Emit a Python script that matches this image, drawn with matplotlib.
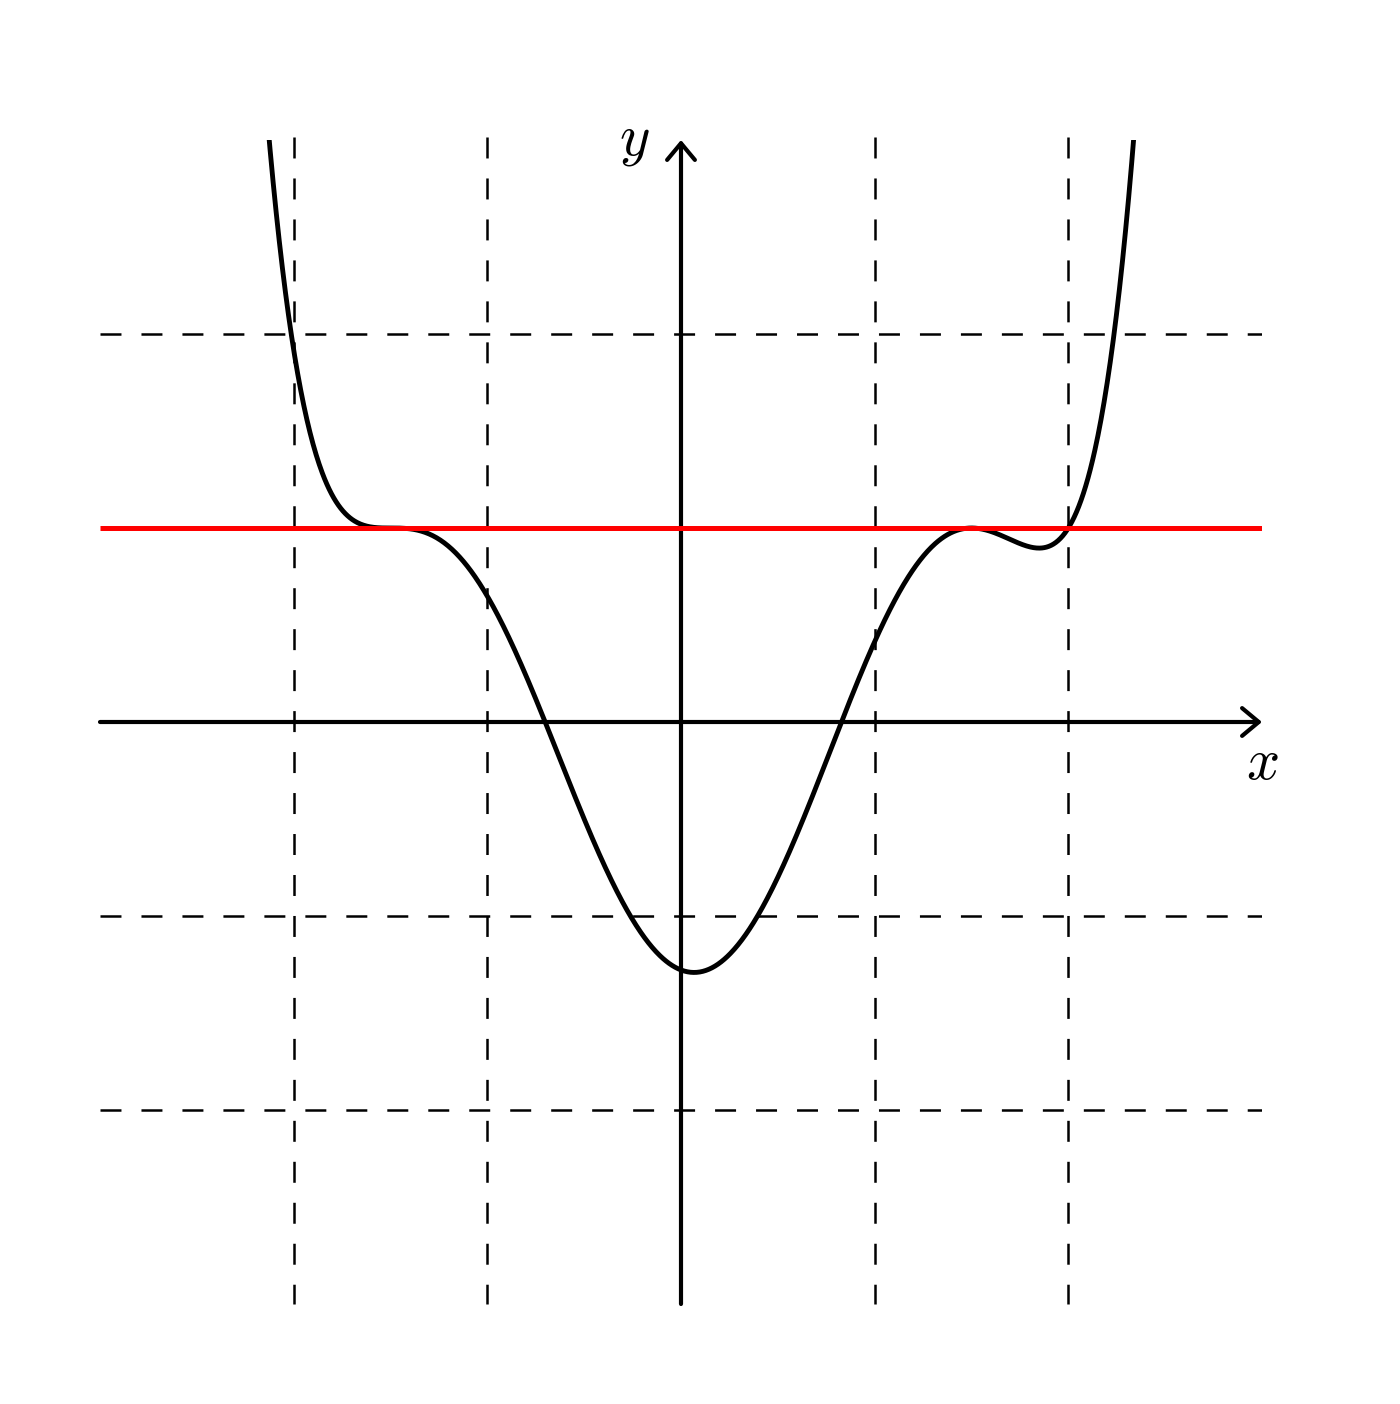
import numpy as np
import matplotlib
matplotlib.use("Agg")
import matplotlib.pyplot as plt

# ---- data ----
touch_x = [-1.5, 1.5, 2.0]      # where the curve meets the red level line
touch_mult = [3, 2, 1]          # multiplicity of each contact
curve_scale = 0.15              # leading coefficient
level_y = 1.0                   # red horizontal line
grid_x = [-2, -1, 1, 2]
grid_y = [-2, -1, 2]
x_range = [-3, 3]
y_range = [-3, 3]

plt.rcParams['lines.scale_dashes'] = False
plt.rcParams['mathtext.fontset'] = 'cm'

W, H = 1400, 1404
fig = plt.figure(figsize=(W / 100, H / 100), dpi=100)
ax = fig.add_axes([100 / W, 100 / H, 1162 / W, 1164 / H])
ax.set_xlim(*x_range)
ax.set_ylim(*y_range)
ax.axis('off')

dash = (0, (15.1, 14.4))
for gx in grid_x:
    ax.plot([gx, gx], [y_range[1] + 0.015, y_range[0]], color='black', lw=1.8,
            linestyle=dash, clip_on=False, zorder=1)
for gy in grid_y:
    ax.plot([x_range[0], x_range[1]], [gy, gy], color='black', lw=1.8,
            linestyle=dash, zorder=1)

# axes with arrows
arrow = dict(arrowstyle='->,head_length=0.6,head_width=0.5', lw=3.0,
             color='black', shrinkA=0, shrinkB=0, mutation_scale=20)
ax.annotate('', xy=(x_range[1], 0), xytext=(x_range[0], 0),
            arrowprops=arrow, annotation_clip=False, zorder=2)
ax.annotate('', xy=(0, y_range[1]), xytext=(0, y_range[0]),
            arrowprops=arrow, annotation_clip=False, zorder=2)

# curve
roots = np.repeat(touch_x, touch_mult)
coeffs = curve_scale * np.poly(roots)
coeffs[-1] += level_y
xs = np.linspace(-2.3, 2.45, 1200)
ax.plot(xs, np.polyval(coeffs, xs), color='black', lw=3.5, zorder=3,
        solid_capstyle='butt')

# red level line
ax.plot(x_range, [level_y, level_y], color='#ff0000', lw=3.6, zorder=4,
        solid_capstyle='butt')

ax.text(-0.24, 3.0, r'$y$', fontsize=42, ha='center', va='center')
ax.text(3.0, -0.21, r'$x$', fontsize=42, ha='center', va='center')

fig.savefig('out.png', dpi=100)
